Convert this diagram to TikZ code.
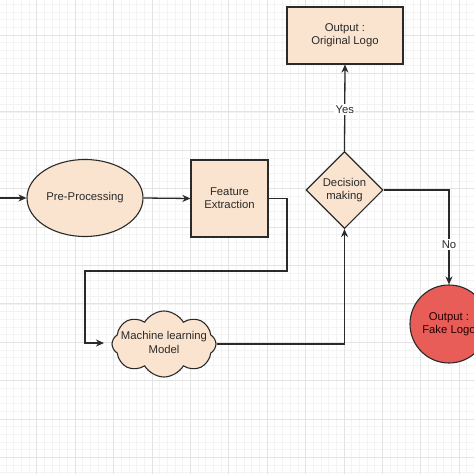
\documentclass[tikz,border=0pt]{standalone}
\usepackage{fontspec}
\setmainfont{Liberation Sans}
\usetikzlibrary{shapes.geometric,shapes.symbols,arrows.meta}
\definecolor{peach}{HTML}{FAE4CF}
\definecolor{redfill}{HTML}{E85D57}
\definecolor{ink}{HTML}{2A2A2A}
\definecolor{gridminor}{HTML}{F3F3F3}
\definecolor{gridmajor}{HTML}{E3E3E3}
\tikzset{
  txt/.style={font=\fontsize{11.3}{13.3}\selectfont, text=ink, align=center, inner sep=0pt},
  shapebox/.style={draw=ink, line width=1.1pt, fill=peach},
  conn/.style={draw=ink, line width=1.3pt},
  arr/.style={conn, -{Stealth[length=8pt,width=7pt,inset=2.5pt]}},
  lbl/.style={txt, fill=white, inner sep=1.5pt},
  minorgrid/.style={draw=gridminor, line width=0.6pt},
  majorgrid/.style={draw=gridmajor, line width=0.8pt}
}
\begin{document}
\begin{tikzpicture}[x=1pt,y=-1pt]
\useasboundingbox (0,0) rectangle (474,474);
\clip (0,0) rectangle (474,474);
\fill[white] (0,0) rectangle (474,474);
% grid
\foreach \i in {0,...,62} {
  \draw[minorgrid] ({-1.7+\i*7.68},0) -- ({-1.7+\i*7.68},474);
  \draw[minorgrid] (0,{-3.4+\i*7.68}) -- (474,{-3.4+\i*7.68});
}
\foreach \i in {0,...,13} {
  \draw[majorgrid] ({-1.7+\i*38.4},0) -- ({-1.7+\i*38.4},474);
  \draw[majorgrid] (0,{-3.4+\i*38.4}) -- (474,{-3.4+\i*38.4});
}
% nodes
\node[shapebox, ellipse, minimum width=116pt, minimum height=77pt, inner sep=0pt] (pre) at (85,198) {};
\node[txt] (pret) at (pre.center) {Pre-Processing};
\node[shapebox, rectangle, minimum width=77pt, minimum height=77pt, inner sep=0pt] (fe) at (229.5,198.5) {};
\node[txt] (fet) at (fe.center) {Feature\\Extraction};
\node[shapebox, diamond, aspect=1, minimum width=77pt, minimum height=77pt, inner sep=0pt] (dm) at (344.5,190) {};
\node[txt] (dmt) at (dm.center) {Decision\\making};
\node[shapebox, rectangle, minimum width=116pt, minimum height=57pt, inner sep=0pt] (out) at (345,35.5) {};
\node[txt] (outt) at (out.center) {Output :\\Original Logo};
\node[shapebox, cloud, cloud puffs=8, cloud puff arc=120, aspect=1.6, minimum width=104pt, minimum height=66pt, inner sep=0pt] (ml) at (164,344) {};
\node[txt] (mlt) at (164,342.5) {Machine learning\\Model};
\node[draw=ink, line width=1.1pt, fill=redfill, circle, minimum size=78pt, inner sep=0pt] (fake) at (449,324) {};
\node[txt, text=black!85!red] (faket) at (fake.center) {Output :\\Fake Logo};
% coordinates
\coordinate (in) at (-5,198);
\coordinate (mlin) at (104,343);
% connectors
\draw[arr] (in) -- (pre.west);
\draw[arr] (pre.east) -- (fe.west);
\draw[arr] (fe.east) -- (287,198.5) -- (287,271) -- (85,271) |- (mlin);
\draw[arr] (ml.east) -| (dm.south);
\draw[arr] (dm.north) -- node[lbl, pos=0.48] (yes) {Yes} (out.south);
\draw[arr] (dm.east) -| node[lbl, pos=0.79] (no) {No} (fake.north);
\end{tikzpicture}
\end{document}
